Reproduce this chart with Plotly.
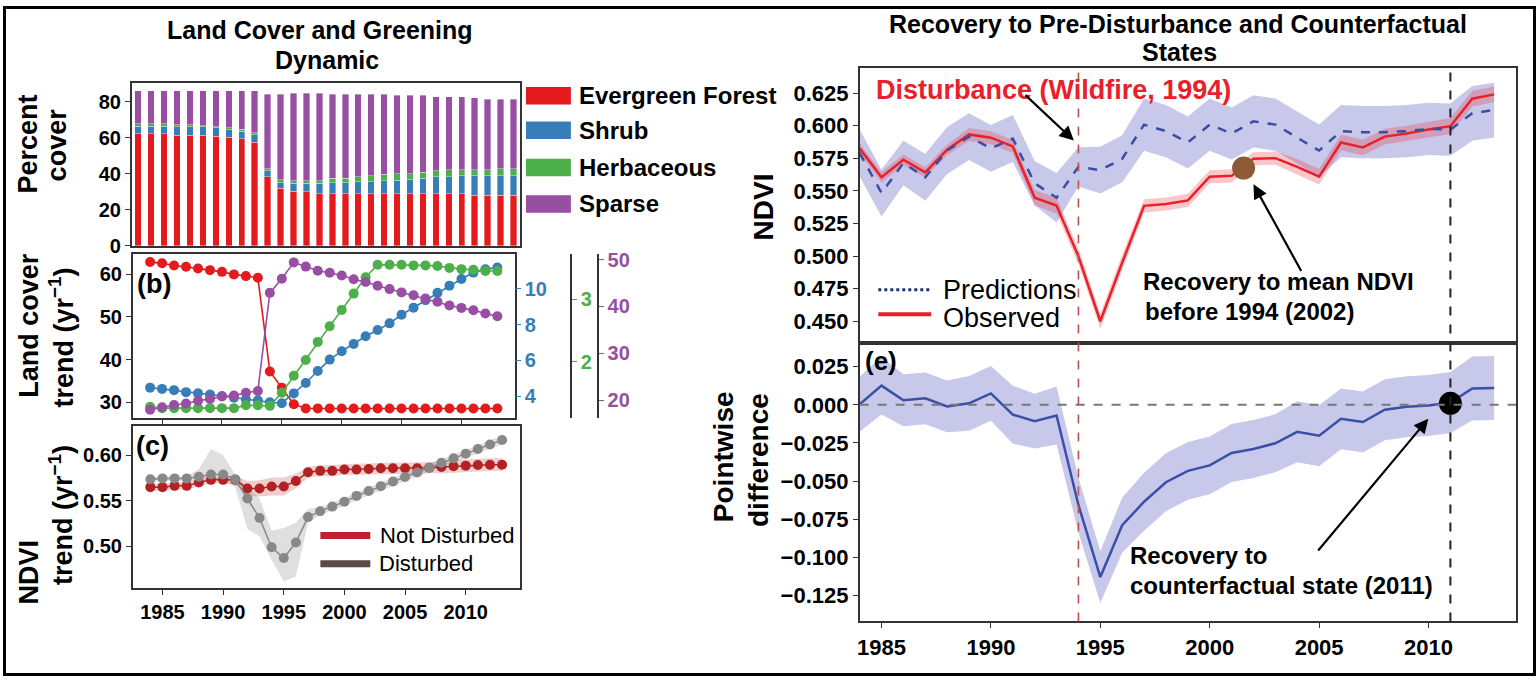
import plotly.graph_objects as go

W, H = 1536, 687
def px(x): return x / W
def py(y): return 1 - y / H

FONT = "Liberation Sans, Arial, Helvetica, sans-serif"

# ---------------- data ----------------
years = [1984, 1985, 1986, 1987, 1988, 1989, 1990, 1991, 1992, 1993, 1994, 1995, 1996, 1997, 1998,
         1999, 2000, 2001, 2002, 2003, 2004, 2005, 2006, 2007, 2008, 2009, 2010, 2011, 2012, 2013]

# (a) percent cover (stacked)
forest_pct = [62.3, 62.3, 62.3, 61.6, 61.6, 61.6, 60.9, 60.3, 59.6, 57.6, 38.5, 32.0, 30.5, 30.0, 28.9,
              28.9, 28.9, 28.9, 28.9, 28.9, 28.9, 28.9, 28.9, 28.9, 28.9, 28.9, 28.2, 28.2, 28.2, 28.2]
shrub_pct = [4.3, 4.3, 4.3, 4.5, 4.5, 4.5, 4.7, 4.2, 4.1, 4.2, 3.2, 3.2, 4.2, 4.9, 6.0,
             6.3, 6.3, 6.7, 6.7, 7.4, 7.6, 7.8, 8.7, 9.6, 9.6, 10.1, 10.8, 10.8, 10.8, 10.8]
herb_pct = [1.3, 1.3, 1.3, 1.3, 1.3, 0.7, 0.7, 1.1, 1.1, 1.0, 1.3, 1.6, 1.6, 1.4, 1.4,
            2.4, 2.4, 2.7, 3.4, 3.4, 3.6, 3.4, 3.4, 3.2, 3.8, 3.3, 3.3, 3.3, 4.0, 4.0]
sparse_pct = [18.2, 18.2, 18.2, 18.7, 18.7, 19.3, 19.8, 20.5, 21.3, 23.3, 41.3, 47.5, 48.6, 48.6, 48.6,
              46.7, 46.7, 46.0, 45.3, 44.6, 43.7, 43.7, 42.8, 41.2, 40.6, 40.6, 39.9, 39.3, 38.6, 38.6]
cover_names = ["Evergreen Forest", "Shrub", "Herbaceous", "Sparse"]

# (b) land cover trends
forest_tr = [62.9, 62.6, 62.1, 61.8, 61.4, 61.0, 60.6, 60.0, 59.6, 59.2, 37.2, 33.4, 29.5, 28.5, 28.5,
             28.5, 28.5, 28.5, 28.5, 28.5, 28.5, 28.5, 28.5, 28.5, 28.5, 28.5, 28.5, 28.5, 28.5, 28.5]
shrub_tr = [4.47, 4.40, 4.33, 4.22, 4.16, 4.09, 4.00, 3.91, 3.82, 3.76, 3.65, 3.60, 4.15, 4.73, 5.40,
            6.04, 6.51, 6.91, 7.35, 7.70, 8.07, 8.55, 8.95, 9.36, 9.78, 10.18, 10.55, 10.91, 11.10, 11.20]
herb_tr = [1.285, 1.264, 1.264, 1.264, 1.264, 1.264, 1.264, 1.264, 1.31, 1.31, 1.30, 1.51, 1.78, 2.03, 2.32,
           2.57, 2.83, 3.09, 3.35, 3.55, 3.55, 3.55, 3.54, 3.54, 3.53, 3.50, 3.48, 3.47, 3.45, 3.45]
sparse_tr = [18.0, 18.5, 19.0, 19.3, 19.9, 20.3, 20.8, 21.0, 21.6, 22.0, 42.9, 45.9, 49.4, 48.5, 47.6,
             47.2, 46.6, 45.8, 45.2, 44.4, 43.7, 43.0, 42.4, 41.7, 41.0, 40.2, 39.7, 39.2, 38.5, 37.9]

# (c) NDVI trends
nd_ndvi = [0.5650, 0.5650, 0.5664, 0.5664, 0.5700, 0.5730, 0.5730, 0.5730, 0.5636, 0.5636, 0.5657, 0.5657,
           0.5718, 0.5814, 0.5829, 0.5829, 0.5843, 0.5843, 0.5850, 0.5857, 0.5857, 0.5857, 0.5857, 0.5864,
           0.5871, 0.5879, 0.5886, 0.5893, 0.5896, 0.5896]
nd_err = [0.004, 0.004, 0.004, 0.004, 0.004, 0.004, 0.004, 0.005, 0.008, 0.009, 0.010, 0.010, 0.008, 0.006,
          0.006, 0.006, 0.006, 0.006, 0.006, 0.006, 0.006, 0.006, 0.006, 0.006, 0.007, 0.007, 0.007, 0.007,
          0.007, 0.007]
dist_ndvi = [0.5736, 0.5746, 0.5746, 0.5746, 0.5764, 0.5789, 0.5789, 0.5736, 0.5525, 0.5311, 0.4989, 0.4871,
             0.5043, 0.5321, 0.5386, 0.5436, 0.5489, 0.5554, 0.5607, 0.5661, 0.5711, 0.5761, 0.5811, 0.5864,
             0.5918, 0.5968, 0.6018, 0.6068, 0.6118, 0.6168]
dist_hi = [0.5760, 0.5770, 0.5770, 0.5770, 0.5850, 0.6070, 0.6000, 0.5790, 0.5650, 0.5525, 0.5170, 0.5200,
           0.5260, 0.5410, 0.5430, 0.5480, 0.5530, 0.5595, 0.5650, 0.5705, 0.5755, 0.5805, 0.5855, 0.5905,
           0.5960, 0.6010, 0.6060, 0.6110, 0.6165, 0.6215]
dist_lo = [0.5710, 0.5720, 0.5720, 0.5720, 0.5720, 0.5740, 0.5730, 0.5650, 0.5190, 0.5110, 0.4850, 0.4614,
           0.4668, 0.5257, 0.5340, 0.5390, 0.5445, 0.5510, 0.5560, 0.5615, 0.5665, 0.5715, 0.5765, 0.5820,
           0.5875, 0.5925, 0.5975, 0.6025, 0.6070, 0.6120]

# (d) observed vs predicted NDVI
obs_ndvi = [0.5826, 0.5604, 0.5739, 0.5642, 0.5816, 0.5933, 0.5908, 0.5841, 0.5447, 0.5387, 0.4998, 0.4500,
            0.4950, 0.5385, 0.5400, 0.5427, 0.5609, 0.5615, 0.5746, 0.5751, 0.5684, 0.5609, 0.5871, 0.5833,
            0.5916, 0.5940, 0.5970, 0.5996, 0.6207, 0.6240]
obs_err = [0.004, 0.004, 0.004, 0.004, 0.004, 0.005, 0.005, 0.005, 0.006, 0.006, 0.006, 0.006, 0.006, 0.005,
           0.005, 0.005, 0.005, 0.005, 0.005, 0.005, 0.006, 0.006, 0.006, 0.006, 0.006, 0.006, 0.006, 0.006,
           0.006, 0.006]
pred_ndvi = [0.5791, 0.5484, 0.5714, 0.5604, 0.5809, 0.5916, 0.5826, 0.5901, 0.5559, 0.5447, 0.5684, 0.5659,
             0.5746, 0.6008, 0.5958, 0.5871, 0.6008, 0.5940, 0.6033, 0.6008, 0.5908, 0.5809, 0.5958, 0.5950,
             0.5950, 0.5958, 0.5975, 0.5970, 0.6095, 0.6120]
pred_err = [0.018, 0.018, 0.017, 0.018, 0.018, 0.018, 0.018, 0.018, 0.017, 0.019, 0.015, 0.018, 0.018, 0.020,
            0.020, 0.020, 0.020, 0.020, 0.020, 0.020, 0.020, 0.020, 0.020, 0.020, 0.020, 0.020, 0.020, 0.020,
            0.021, 0.021]

# (e) pointwise difference
diff = [0.0004, 0.0126, 0.0030, 0.0043, -0.0010, 0.0010, 0.0075, -0.0064, -0.0107, -0.0070, -0.0657, -0.1130,
        -0.0790, -0.0636, -0.0508, -0.0433, -0.0397, -0.0316, -0.0290, -0.0252, -0.0177, -0.0203, -0.0092,
        -0.0113, -0.0032, -0.0013, -0.0004, 0.0015, 0.0107, 0.0110]
diff_err = [0.018, 0.019, 0.017, 0.017, 0.017, 0.018, 0.018, 0.019, 0.018, 0.019, 0.018, 0.017, 0.018, 0.019,
            0.019, 0.019, 0.019, 0.019, 0.019, 0.019, 0.020, 0.020, 0.020, 0.020, 0.020, 0.020, 0.020, 0.020,
            0.021, 0.021]

disturbance_year = 1994
recovery_cf_year = 2011
rec_mean_pt = (2001.55, 0.5675)
rec_cf_pt = (2011, 0.001)

# ---------------- style ----------------
C_RED, C_BLUE, C_GREEN, C_PURPLE = "#e41a1c", "#377eb8", "#4daf4a", "#984ea3"
AX = "#333333"

fig = go.Figure()

# (a) stacked bars
for name, vals, col in zip(cover_names, [forest_pct, shrub_pct, herb_pct, sparse_pct],
                           [C_RED, C_BLUE, C_GREEN, C_PURPLE]):
    fig.add_trace(go.Bar(x=[str(y) for y in years], y=vals, name=name,
                         marker=dict(color=col, line=dict(width=0.6, color="rgba(255,255,255,0.6)")),
                         width=0.5, xaxis="x", yaxis="y"))

# (b) land cover trend lines
for vals, col, ya in [(forest_tr, C_RED, "y2"), (shrub_tr, C_BLUE, "y3"),
                      (herb_tr, C_GREEN, "y4"), (sparse_tr, C_PURPLE, "y5")]:
    fig.add_trace(go.Scatter(x=years, y=vals, mode="lines+markers", line=dict(color=col, width=1.6),
                             marker=dict(color=col, size=10), xaxis="x2", yaxis=ya))

def band(x, lo, hi, color, xa, ya):
    return go.Scatter(x=list(x) + list(x)[::-1], y=list(hi) + list(lo)[::-1], fill="toself",
                      fillcolor=color, line=dict(width=0), mode="lines", hoverinfo="skip",
                      xaxis=xa, yaxis=ya)

# (c) NDVI trends
fig.add_trace(band(years, [v - e for v, e in zip(nd_ndvi, nd_err)], [v + e for v, e in zip(nd_ndvi, nd_err)],
                   "rgba(178,34,34,0.22)", "x3", "y6"))
fig.add_trace(band(years, dist_lo, dist_hi, "rgba(140,140,140,0.28)", "x3", "y6"))
fig.add_trace(go.Scatter(x=years, y=nd_ndvi, mode="lines+markers", line=dict(color="#b22222", width=1.5),
                         marker=dict(color="#b22222", size=10), xaxis="x3", yaxis="y6"))
fig.add_trace(go.Scatter(x=years, y=dist_ndvi, mode="lines+markers", line=dict(color="#888888", width=1.5),
                         marker=dict(color="#888888", size=10), xaxis="x3", yaxis="y6"))

# (d) observed vs predicted
fig.add_trace(band(years, [v - e for v, e in zip(pred_ndvi, pred_err)], [v + e for v, e in zip(pred_ndvi, pred_err)],
                   "rgba(110,110,200,0.38)", "x4", "y7"))
fig.add_trace(band(years, [v - e for v, e in zip(obs_ndvi, obs_err)], [v + e for v, e in zip(obs_ndvi, obs_err)],
                   "rgba(235,50,60,0.28)", "x4", "y7"))
fig.add_trace(go.Scatter(x=years, y=obs_ndvi, mode="lines", line=dict(color="#e8202a", width=2.5),
                         xaxis="x4", yaxis="y7"))
fig.add_trace(go.Scatter(x=years, y=pred_ndvi, mode="lines", line=dict(color="#3a4ea0", width=2.5, dash="dash"),
                         xaxis="x4", yaxis="y7"))
fig.add_trace(go.Scatter(x=[rec_mean_pt[0]], y=[rec_mean_pt[1]], mode="markers",
                         marker=dict(color="#8c5a35", size=23), xaxis="x4", yaxis="y7"))

# (e) pointwise difference
fig.add_trace(band(years, [v - e for v, e in zip(diff, diff_err)], [v + e for v, e in zip(diff, diff_err)],
                   "rgba(110,110,200,0.38)", "x5", "y8"))
fig.add_trace(go.Scatter(x=years, y=diff, mode="lines", line=dict(color="#3a4fa8", width=2.5),
                         xaxis="x5", yaxis="y8"))
fig.add_trace(go.Scatter(x=[rec_cf_pt[0]], y=[rec_cf_pt[1]], mode="markers",
                         marker=dict(color="black", size=23), xaxis="x5", yaxis="y8"))

# ---------------- axes ----------------
box = dict(showline=True, mirror=True, linecolor=AX, linewidth=1.5, showgrid=False, zeroline=False)
tfl = dict(family=FONT, size=20, color="black", weight="bold")
tfr = dict(family=FONT, size=22, color="black", weight="bold")

def col_font(c):
    return dict(family=FONT, size=20, color=c, weight="bold")

xr_left = [1982.55, 2014.45]
xr_right = [1984, 2014]
five = [1985, 1990, 1995, 2000, 2005, 2010]

fig.update_layout(
    width=W, height=H, margin=dict(l=0, r=0, t=0, b=0),
    paper_bgcolor="white", plot_bgcolor="white", showlegend=False, barmode="stack",
    font=dict(family=FONT, color="black"),
    xaxis=dict(domain=[px(129), px(518)], type="category", range=[-0.5, 29.5], showticklabels=False,
               ticks="", anchor="y", **box),
    yaxis=dict(domain=[py(246), py(79)], range=[0, 90.5], tickvals=[0, 20, 40, 60, 80], ticks="outside",
               ticklen=5, tickcolor=AX, tickfont=tfl, anchor="x", **box),
    xaxis2=dict(domain=[px(130), px(512.7)], range=xr_left, tickvals=five, showticklabels=False,
                ticks="outside", ticklen=5, tickcolor=AX, anchor="y2", **box),
    yaxis2=dict(domain=[py(422.3), py(254.7)], range=[26.3, 64.7], tickvals=[30, 40, 50, 60], ticks="outside",
                ticklen=5, tickcolor=AX, tickfont=tfl, anchor="x2", **box),
    yaxis3=dict(overlaying="y2", side="right", anchor="x2", range=[2.78, 11.93], tickvals=[4, 6, 8, 10],
                ticks="outside", ticklen=5, tickcolor=C_BLUE, tickfont=col_font(C_BLUE), showgrid=False,
                zeroline=False, showline=False),
    yaxis4=dict(overlaying="y2", side="right", anchor="free", position=px(569), range=[1.109, 3.715],
                tickvals=[2, 3], ticks="outside", ticklen=5, tickcolor=C_GREEN, tickfont=col_font(C_GREEN),
                showgrid=False, zeroline=False, showline=True, linecolor=AX, linewidth=1.5),
    yaxis5=dict(overlaying="y2", side="right", anchor="free", position=px(596), range=[16.26, 51.1],
                tickvals=[20, 30, 40, 50], ticks="outside", ticklen=5, tickcolor=C_PURPLE,
                tickfont=col_font(C_PURPLE), showgrid=False, zeroline=False, showline=True, linecolor=AX,
                linewidth=1.5),
    xaxis3=dict(domain=[px(130), px(517.7)], range=xr_left, tickvals=five, ticks="outside", ticklen=5,
                tickcolor=AX, tickfont=tfl, anchor="y6", **box),
    yaxis6=dict(domain=[py(596.7), py(430.7)], range=[0.4543, 0.6321], tickvals=[0.50, 0.55, 0.60],
                tickformat=".2f", ticks="outside", ticklen=5, tickcolor=AX, tickfont=tfl, anchor="x3", **box),
    xaxis4=dict(domain=[px(858.3), px(1516)], range=xr_right, showticklabels=False, ticks="", anchor="y7", **box),
    yaxis7=dict(domain=[py(346), py(64)], range=[0.433, 0.6439],
                tickvals=[0.45, 0.475, 0.5, 0.525, 0.55, 0.575, 0.6, 0.625], tickformat=".3f",
                ticks="outside", ticklen=5, tickcolor=AX, tickfont=tfr, anchor="x4", **box),
    xaxis5=dict(domain=[px(858.3), px(1516)], range=xr_right, tickvals=five, ticks="outside", ticklen=5,
                tickcolor=AX, tickfont=tfr, anchor="y8", **box),
    yaxis8=dict(domain=[py(631), py(346)], range=[-0.1421, 0.0403],
                tickvals=[-0.125, -0.1, -0.075, -0.05, -0.025, 0.0, 0.025], tickformat=".3f",
                ticks="outside", ticklen=5, tickcolor=AX, tickfont=tfr, anchor="x5", **box),
)

# ---------------- shapes ----------------
shapes = [
    dict(type="rect", xref="paper", yref="paper", x0=px(1.5), x1=px(1534.5), y0=py(685.5), y1=py(1.5),
         line=dict(color="black", width=3)),
    dict(type="line", xref="x4", yref="paper", x0=disturbance_year, x1=disturbance_year, y0=py(631), y1=py(64),
         line=dict(color="#c0504d", width=1.6, dash="dash")),
    dict(type="line", xref="x4", yref="paper", x0=recovery_cf_year, x1=recovery_cf_year, y0=py(631), y1=py(64),
         line=dict(color="#222222", width=2, dash="dash")),
    dict(type="line", xref="x5 domain", yref="y8", x0=0, x1=1, y0=0, y1=0,
         line=dict(color="#777777", width=2, dash="dash")),
    # legend (d)
    dict(type="line", xref="paper", yref="paper", x0=px(877), x1=px(930), y0=py(291), y1=py(291),
         line=dict(color="#1f2f7a", width=3, dash="dot")),
    dict(type="line", xref="paper", yref="paper", x0=px(877), x1=px(930), y0=py(316), y1=py(316),
         line=dict(color="#e8202a", width=4)),
    # legend (c)
    dict(type="line", xref="paper", yref="paper", x0=px(318), x1=px(368), y0=py(543), y1=py(543),
         line=dict(color="#c41e2f", width=7)),
    dict(type="line", xref="paper", yref="paper", x0=px(318), x1=px(368), y0=py(572), y1=py(572),
         line=dict(color="#5b4a44", width=7)),
]
leg_rows = [92, 127.5, 165.5, 203]
for yc, col in zip(leg_rows, [C_RED, C_BLUE, C_GREEN, C_PURPLE]):
    shapes.append(dict(type="rect", xref="paper", yref="paper", x0=px(524), x1=px(569),
                       y0=py(yc + 9), y1=py(yc - 9), fillcolor=col, line=dict(width=0)))
fig.update_layout(shapes=shapes)

# ---------------- annotations ----------------
ann = []
def txt(x, y, s, size, color="black", xanchor="center", angle=0, bold=True):
    ann.append(dict(xref="paper", yref="paper", x=px(x), y=py(y), text=("<b>%s</b>" % s) if bold else s,
                    showarrow=False, xanchor=xanchor, yanchor="middle", textangle=angle,
                    font=dict(family=FONT, size=size, color=color)))

txt(318, 25, "Land Cover and Greening", 25)
txt(325, 55, "Dynamic", 25)
txt(1177, 18, "Recovery to Pre-Disturbance and Counterfactual", 25)
txt(1179, 47, "States", 25)

txt(25, 141, "Percent", 27, angle=-90)
txt(55, 142, "cover", 27, angle=-90)
txt(26, 327, "Land cover", 27, angle=-90)
txt(58, 340, "trend (yr<sup>−1</sup>)", 27, angle=-90)
txt(26, 580, "NDVI", 27, angle=-90)
txt(58, 522, "trend (yr<sup>−1</sup>)", 27, angle=-90)

txt(762, 206, "NDVI", 28, angle=-90)
txt(722, 462, "Pointwise", 28, angle=-90)
txt(757, 466, "difference", 28, angle=-90)

for yc, name in zip(leg_rows, cover_names):
    txt(575, yc, name, 24, xanchor="left")

txt(151, 285, "(b)", 27)
txt(150, 451, "(c)", 27)
txt(880, 364, "(e)", 26)

txt(376, 543, "Not Disturbed", 22, xanchor="left", bold=False)
txt(375, 572, "Disturbed", 22, xanchor="left", bold=False)
txt(940, 291, "Predictions", 27, xanchor="left", bold=False)
txt(940, 320, "Observed", 27, xanchor="left", bold=False)

txt(873, 86, "Disturbance (Wildfire, 1994)", 27, color="#e8202a", xanchor="left")
txt(1140, 282, "Recovery to mean NDVI", 24, xanchor="left")
txt(1142, 313, "before 1994 (2002)", 24, xanchor="left")
txt(1127, 563, "Recovery to", 24, xanchor="left")
txt(1127, 594, "counterfactual state (2011)", 24, xanchor="left")

arrow = dict(showarrow=True, arrowhead=2, arrowsize=1.3, arrowwidth=2.2, arrowcolor="black", text="")
ann.append(dict(x=1993.79, y=0.5886, ax=1991.51, ay=0.6245, xref="x4", yref="y7", axref="x4", ayref="y7", **arrow))
ann.append(dict(x=2002.0, y=0.555, ax=2004.22, ay=0.4874, xref="x4", yref="y7", axref="x4", ayref="y7", **arrow))
ann.append(dict(x=2009.99, y=-0.00915, ax=2004.9, ay=-0.0966, xref="x5", yref="y8", axref="x5", ayref="y8", **arrow))

fig.update_layout(annotations=ann)

fig.write_html("out.html")
